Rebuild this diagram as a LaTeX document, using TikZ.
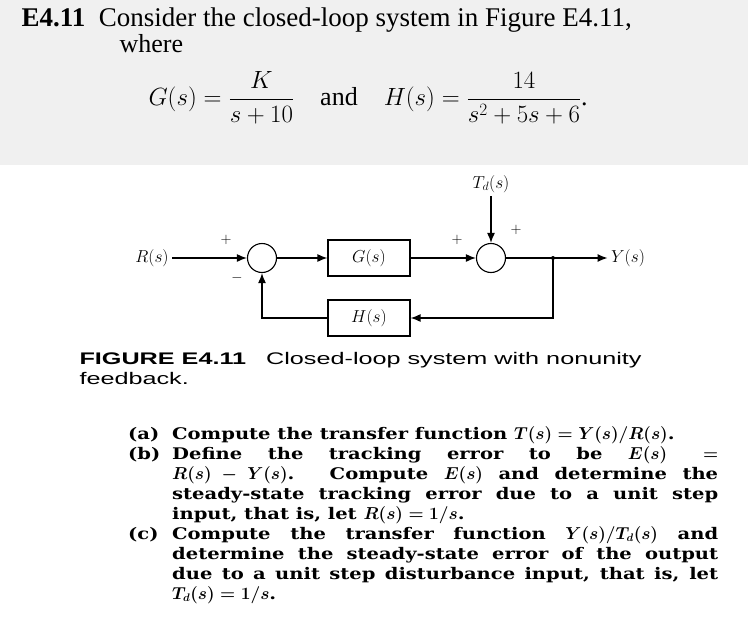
\documentclass[tikz,border=0pt]{standalone}
\usepackage{amsmath}
\usepackage{fontspec}
\setmainfont{Liberation Serif}
\newfontfamily\capfont[FakeStretch=1.5]{Liberation Sans}
\newfontfamily\partfont[FakeStretch=1.22]{DejaVu Serif}
\usetikzlibrary{arrows.meta}
\begin{document}
\begin{tikzpicture}[x=1pt,y=-1pt,
  blk/.style={draw,line width=1.1pt,minimum width=82pt,minimum height=36pt,font=\fontsize{17}{19}\selectfont},
  sumj/.style={draw,circle,line width=1.1pt,minimum size=29pt,inner sep=0pt},
  sig/.style={line width=1.4pt,-{Latex[length=10pt,width=8pt]}},
  lbl/.style={font=\fontsize{17}{19}\selectfont},
  sgn/.style={font=\fontsize{15}{17}\selectfont}]
\useasboundingbox (0,0) rectangle (748,627);
\fill[black!6] (0,0) rectangle (748,165);
% header
\node[anchor=base west,font=\fontsize{27}{30}\selectfont] (hd) at (18,26) {\textbf{E4.11}\enspace Consider the closed-loop system in Figure E4.11,};
\node[anchor=base west,font=\fontsize{26}{30}\selectfont] (wh) at (116,52) {where};
\node[anchor=west,font=\fontsize{26}{30}\selectfont] (eq) at (145,98) {$G(s)=\dfrac{K}{s+10}$\quad and\quad $H(s)=\dfrac{14}{s^2+5s+6}$.};
% diagram
\node[lbl] (R) at (152,258) {$R(s)$};
\node[sumj] (s1) at (262,258) {};
\node[blk] (G) at (369,258) {$G(s)$};
\node[sumj] (s2) at (491,258) {};
\node[blk] (H) at (369,318) {$H(s)$};
\node[lbl] (Y) at (628,258) {$Y(s)$};
\node[lbl] (Td) at (491,184) {$T_d(s)$};
\coordinate (tap) at (553,258);
\draw[sig] (R) -- (s1);
\draw[sig] (s1) -- (G);
\draw[sig] (G) -- (s2);
\draw[sig] (s2) -- (Y);
\draw[sig] (Td) -- (s2);
\draw[sig] (tap) |- (H);
\draw[sig] (H) -| (s1);
\fill (tap) circle (2pt);
\node[sgn] (p1) at (226,240) {$+$};
\node[sgn] (m1) at (237,278) {$-$};
\node[sgn] (p2) at (457,240) {$+$};
\node[sgn] (p3) at (516,230) {$+$};
% caption
\node[anchor=base west,font=\capfont\fontsize{16.8}{19}\selectfont] (cap) at (76,364) {\textbf{FIGURE E4.11}\hspace{20pt}Closed-loop system with nonunity};
\node[anchor=base west,font=\capfont\fontsize{16.8}{19}\selectfont] (cap2) at (76,384) {feedback.};
% parts
\node[anchor=north west,inner sep=0pt,font=\partfont\fontsize{16}{20}\selectfont] (parts) at (128,426) {\parbox{590pt}{\bfseries\boldmath
\hangindent=44pt\hangafter=1 \makebox[44pt][l]{(a)}Compute the transfer function $T(s)=Y(s)/R(s)$.\par
\hangindent=44pt\hangafter=1 \makebox[44pt][l]{(b)}Define the tracking error to be $E(s)=$\linebreak $R(s)-Y(s)$. Compute $E(s)$ and determine the\linebreak steady-state tracking error due to a unit step\linebreak input, that is, let $R(s)=1/s$.\par
\hangindent=44pt\hangafter=1 \makebox[44pt][l]{(c)}Compute the transfer function $Y(s)/T_d(s)$ and\linebreak determine the steady-state error of the output\linebreak due to a unit step disturbance input, that is, let\linebreak $T_d(s)=1/s$.\par}};
\end{tikzpicture}
\end{document}
